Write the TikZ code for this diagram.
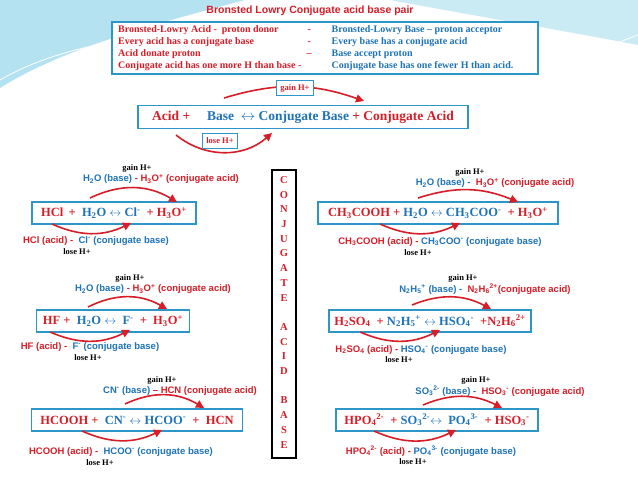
\documentclass[tikz,border=0pt]{standalone}
\usepackage{fontspec}
\setmainfont{Liberation Serif}
\setsansfont{Liberation Sans}
\usetikzlibrary{arrows.meta,positioning}

\definecolor{ared}{RGB}{215,30,40}
\definecolor{ablue}{RGB}{30,115,185}
\definecolor{boxblue}{RGB}{45,150,200}
\definecolor{swoosh}{RGB}{150,215,235}

\newcommand{\rd}[1]{\textcolor{ared}{#1}}
\newcommand{\bl}[1]{\textcolor{ablue}{#1}}
\newcommand{\dn}[1]{\textsubscript{#1}}
\newcommand{\up}[1]{\textsuperscript{#1}}

\tikzset{
  eqbox/.style={draw=boxblue, line width=1.5pt, fill=white, minimum height=22pt, inner xsep=3pt,
    font=\fontsize{12.5}{14}\selectfont\bfseries},
  lbl/.style={font=\sffamily\bfseries\fontsize{9.5}{11}\selectfont, inner sep=0pt},
  hplus/.style={font=\fontsize{8.5}{10}\selectfont\bfseries, inner sep=0pt},
  harrow/.style={draw=ared, line width=1.6pt, -{Triangle[length=8pt,width=8pt]}},
  hbox/.style={draw=boxblue, line width=1.2pt, fill=white, font=\fontsize{8.5}{10}\selectfont\bfseries\color{ared},
    minimum height=15pt, inner xsep=4pt},
}

\begin{document}
\begin{tikzpicture}[x=1pt,y=-1pt]
\useasboundingbox (0,0) rectangle (638,478);
\fill[white] (0,0) rectangle (638,478);

% background swooshes
\fill[swoosh, opacity=.7] (0,0) -- (245,0) .. controls (150,25) and (60,50) .. (0,88) -- cycle;
\fill[swoosh, opacity=.5] (390,0) -- (638,0) -- (638,45) .. controls (560,30) and (470,15) .. (390,0) -- cycle;
\draw[white, line width=.8pt] (0,80) .. controls (60,45) and (150,30) .. (270,30);
\draw[white, line width=.8pt] (540,80) .. controls (580,60) and (610,45) .. (638,35);

% title
\node[font=\sffamily\bfseries\fontsize{10.5}{12}\selectfont, text=ared] (title) at (310,11) {Bronsted Lowry Conjugate acid base pair};

% definitions
\node[draw=boxblue, line width=1.5pt, fill=white, minimum width=426pt, minimum height=52pt] (defs) at (325,48) {};
\node[anchor=west, inner sep=0pt, font=\fontsize{10}{12.3}\selectfont\bfseries] (defstext) at (118,48) {%
  \begin{tabular}{@{}l@{\hspace{28pt}}c@{\hspace{20pt}}l@{}}
  \rd{Bronsted-Lowry Acid - \ proton donor} & \rd{-} & \bl{Bronsted-Lowry Base -- proton acceptor}\\
  \rd{Every acid has a conjugate base} & \rd{-} & \bl{Every base has a conjugate acid}\\
  \rd{Acid donate proton} & \rd{--} & \bl{Base accept proton}\\
  \multicolumn{2}{@{}l}{\rd{Conjugate acid has one more H than base -}} & \bl{Conjugate base has one fewer H than acid.}
  \end{tabular}};

% general equation
\node[eqbox, minimum width=330pt, minimum height=23pt, font=\fontsize{13.5}{15}\selectfont\bfseries] (gen) at (303,117)
  {\rd{Acid +} \quad \bl{Base \ $\leftrightarrow$ Conjugate Base} \rd{+ Conjugate Acid}};
\coordinate (g1) at (224,98);
\coordinate (g2) at (364,101);
\coordinate (l1) at (176,135);
\coordinate (l2) at (272,133);
\draw[harrow] (g1) to[bend left=18] (g2);
\draw[harrow] (l1) to[bend right=40] (l2);
\node[hbox] (gain) at (295,88) {gain H+};
\node[hbox] (lose) at (220,141) {lose H+};

% central column
\node[draw=black, line width=1.2pt, minimum width=24pt, minimum height=288pt] (col) at (284,314) {};
\foreach \l [count=\i] in {C,O,N,J,U,G,A,T,E,{},A,C,I,D,{},B,A,S,E}
  \node[font=\fontsize{10.5}{12}\selectfont\bfseries, text=ared] (c\i) at (284,{180+14.7*(\i-1)}) {\l};

% HCl
\node[hplus] (hclg) at (137,168) {gain H+};
\node[lbl] (hclt) at (161,179) {\bl{H\dn{2}O (base)} \rd{- H\dn{3}O\up{+} (conjugate acid)}};
\node[eqbox, minimum width=164pt] (hcl) at (114,213)
  {\rd{HCl \,+} \ \bl{H\dn{2}O $\leftrightarrow$ Cl\up{-}} \ \rd{+ H\dn{3}O\up{+}}};
\node[lbl] (hclb) at (96,241) {\rd{HCl (acid) - \ }\bl{Cl\up{-} (conjugate base)}};
\node[hplus] (hcll) at (77,252) {lose H+};
\coordinate (hcla) at (90,198);
\coordinate (hclc) at (177,202);
\coordinate (hcld) at (52,224);
\coordinate (hcle) at (131,223);
\draw[harrow] (hcla) to[bend left=28] (hclc);
\draw[harrow] (hcld) to[bend right=25] (hcle);

% HF
\node[hplus] (hfg) at (130,278) {gain H+};
\node[lbl] (hft) at (153,289) {\bl{H\dn{2}O (base)} \rd{- H\dn{3}O\up{+} (conjugate acid)}};
\node[eqbox, minimum width=153pt] (hf) at (113,321)
  {\rd{HF +} \ \bl{H\dn{2}O $\leftrightarrow$ \ F\up{-}} \ \rd{+ \ H\dn{3}O\up{+}}};
\node[lbl] (hfb) at (90,347) {\rd{HF (acid) - \ }\bl{F\up{-} (conjugate base)}};
\node[hplus] (hfl) at (88,358) {lose H+};
\coordinate (hfa) at (88,307);
\coordinate (hfc) at (167,309);
\coordinate (hfd) at (50,332);
\coordinate (hfe) at (130,330);
\draw[harrow] (hfa) to[bend left=28] (hfc);
\draw[harrow] (hfd) to[bend right=25] (hfe);

% HCOOH
\node[hplus] (hcg) at (162,380) {gain H+};
\node[lbl] (hct) at (180,391) {\bl{CN\up{-} (base)} \rd{-- HCN (conjugate acid)}};
\node[eqbox, minimum width=211pt] (hc) at (137,420)
  {\rd{HCOOH +} \ \bl{CN\up{-} $\leftrightarrow$ HCOO\up{-}} \ \rd{+ \ HCN}};
\node[lbl] (hcb) at (121,452) {\rd{HCOOH (acid) - \ }\bl{HCOO\up{-} (conjugate base)}};
\node[hplus] (hcl2) at (100,463) {lose H+};
\coordinate (hca) at (125,404);
\coordinate (hcc) at (204,408);
\coordinate (hcd) at (82,431);
\coordinate (hce) at (162,430);
\draw[harrow] (hca) to[bend left=28] (hcc);
\draw[harrow] (hcd) to[bend right=25] (hce);

% CH3COOH
\node[hplus] (chg) at (470,172) {gain H+};
\node[lbl] (cht) at (495,183) {\bl{H\dn{2}O (base) - } \rd{H\dn{3}O\up{+} (conjugate acid)}};
\node[eqbox, minimum width=240pt] (ch) at (438,213)
  {\rd{CH\dn{3}COOH +} \bl{H\dn{2}O $\leftrightarrow$ CH\dn{3}COO\up{-}} \ \rd{+ H\dn{3}O\up{+}}};
\node[lbl] (chb) at (440,242) {\rd{CH\dn{3}COOH (acid) - }\bl{CH\dn{3}COO\up{-} (conjugate base)}};
\node[hplus] (chl) at (418,253) {lose H+};
\coordinate (cha) at (418,198);
\coordinate (chc) at (518,202);
\coordinate (chd) at (380,224);
\coordinate (che) at (460,223);
\draw[harrow] (cha) to[bend left=20] (chc);
\draw[harrow] (chd) to[bend right=25] (che);

% H2SO4
\node[hplus] (hsg) at (463,278) {gain H+};
\node[lbl] (hst) at (485,289) {\bl{N\dn{2}H\dn{5}\up{+} (base) - } \rd{N\dn{2}H\dn{6}\up{2+}(conjugate acid)}};
\node[eqbox, minimum width=202pt] (hs) at (430,321)
  {\rd{H\dn{2}SO\dn{4}} \ \rd{+} \bl{N\dn{2}H\dn{5}\up{+} $\leftrightarrow$ HSO\dn{4}\up{-}} \ \rd{+N\dn{2}H\dn{6}\up{2+}}};
\node[lbl] (hsb) at (421,350) {\rd{H\dn{2}SO\dn{4} (acid) - }\bl{HSO\dn{4}\up{-} (conjugate base)}};
\node[hplus] (hsl) at (399,360) {lose H+};
\coordinate (hsa) at (412,305);
\coordinate (hsc) at (491,309);
\coordinate (hsd) at (360,332);
\coordinate (hse) at (440,330);
\draw[harrow] (hsa) to[bend left=25] (hsc);
\draw[harrow] (hsd) to[bend right=25] (hse);

% HPO4
\node[hplus] (hpg) at (476,380) {gain H+};
\node[lbl] (hpt) at (500,391) {\bl{SO\dn{3}\up{2-} (base) - } \rd{HSO\dn{3}\up{-} (conjugate acid)}};
\node[eqbox, minimum width=202pt] (hp) at (437,420)
  {\rd{HPO\dn{4}\up{2-}} \ \rd{+} \bl{SO\dn{3}\up{2-}$\leftrightarrow$ \ PO\dn{4}\up{3-}} \ \rd{+ HSO\dn{3}\up{-}}};
\node[lbl] (hpb) at (431,451) {\rd{HPO\dn{4}\up{2-} (acid) - }\bl{PO\dn{4}\up{3-} (conjugate base)}};
\node[hplus] (hpl) at (413,462) {lose H+};
\coordinate (hpa) at (423,405);
\coordinate (hpc) at (502,408);
\coordinate (hpd) at (374,431);
\coordinate (hpe) at (456,430);
\draw[harrow] (hpa) to[bend left=25] (hpc);
\draw[harrow] (hpd) to[bend right=25] (hpe);

\end{tikzpicture}
\end{document}
